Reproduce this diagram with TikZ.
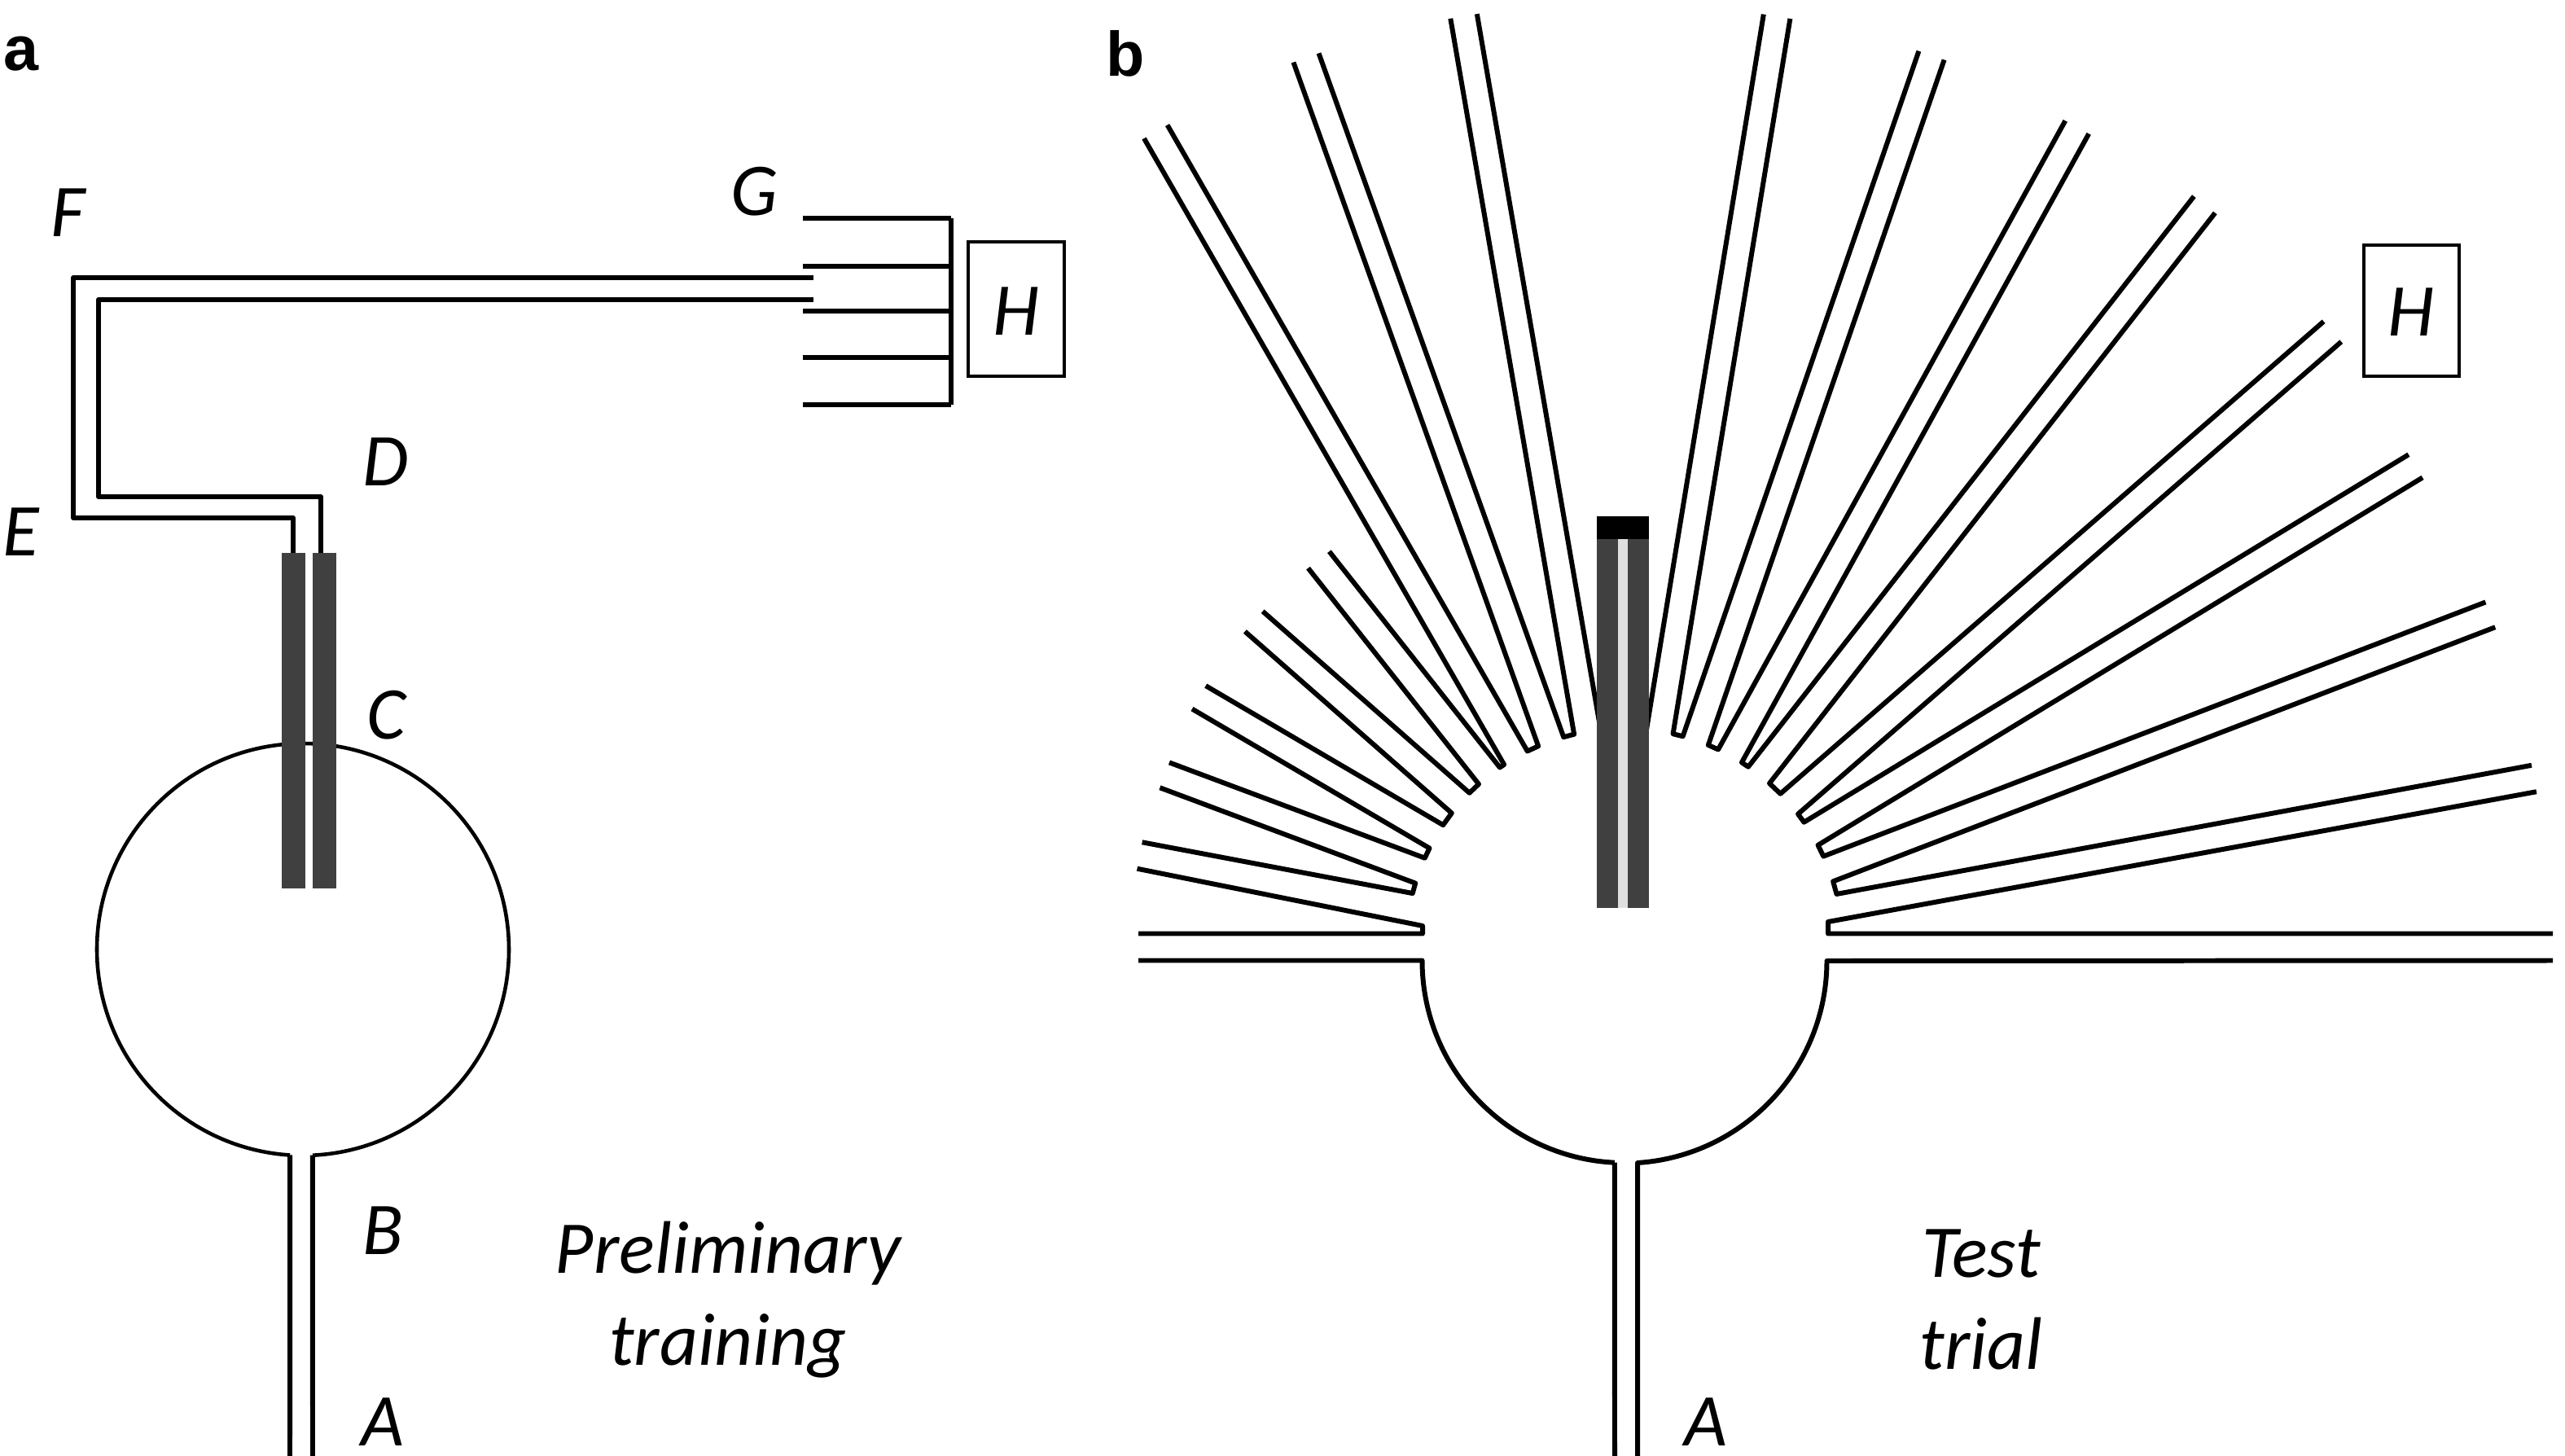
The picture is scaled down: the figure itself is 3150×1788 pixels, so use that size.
\documentclass[tikz,border=0pt]{standalone}
\usepackage{fontspec}
\setmainfont{Carlito}
\newfontfamily\lbfont{Liberation Sans}
\usetikzlibrary{calc}
\definecolor{tubegray}{HTML}{404040}
\begin{document}
\begin{tikzpicture}[x=0.01cm,y=0.01cm,
  wall/.style={line width=1.7pt,line join=round},
  thinwall/.style={line width=1.3pt},
  lbl/.style={font=\fontsize{26}{30}\selectfont\itshape,inner sep=0pt},
  panel/.style={font=\lbfont\bfseries\fontsize{22}{24}\selectfont,inner sep=0pt}]
\useasboundingbox (0,0) rectangle (3150,-1788);
% ---------- panel a ----------
\node[panel] (pa) at (26,-66) {a};
\coordinate (ca) at (372,-1166);
\draw[thinwall] ($(ca)+(272.7:253)$) arc (272.7:626.4:253) coordinate (ca1);
\draw[wall] (ca1) -- (356,-1788);
\draw[wall] ($(ca)+(272.7:253)$) -- (384,-1788);
% pipe
\draw[wall] (999,-341) -- (90,-341) -- (90,-636) -- (360,-636) -- (360,-679);
\draw[wall] (999,-368) -- (121,-368) -- (121,-610) -- (394,-610) -- (394,-679);
\fill[tubegray] (346,-679) rectangle (375,-1091);
\fill[tubegray] (384,-679) rectangle (413,-1091);
% comb
\draw[wall] (1168,-268) -- (1168,-497);
\foreach \yy in {268,327,382,439,497} \draw[wall] (986,-\yy) -- (1168,-\yy);
\draw[line width=1.2pt] (1189,-297) rectangle (1307,-462);
\node[lbl] (hal) at (1248,-382) {H};
\node[lbl] (F) at (84,-261) {F};
\node[lbl] (G) at (926,-235) {G};
\node[lbl] (E) at (26,-653) {E};
\node[lbl] (D) at (474,-567) {D};
\node[lbl] (C) at (474,-878) {C};
\node[lbl] (B) at (470,-1511) {B};
\node[lbl] (A) at (470,-1746) {A};
\node[lbl,align=center] (pt) at (894,-1596) {Preliminary\\[2pt]training};
% ---------- panel b ----------
\node[panel] (pb) at (1382,-66) {b};
\coordinate (fc) at (1995,-1163);
\coordinate (hub) at (1995,-1180);
\draw[wall] (1398,-1179.5) -- (1746.5,-1179.5) arc (180:267.2:248.5) coordinate (hb1);
\draw[wall] (hb1) -- (1983,-1788);
\draw[wall] (2011,-1788) -- ($(hub)+(273.7:248.5)$) arc (273.7:360:248.5) -- (3135,-1179.5);
\draw[wall] (3135,-1146.5) -- (2245,-1146.5) -- (2245,-1132) -- ($(fc)+(10.5:1136)+(-79.5:16.5)$);
\draw[wall] (1398,-1146.5) -- (1747,-1146.5) -- (1747,-1137) -- ($(fc)+(169.3:606)+(259.3:16.5)$);
\foreach \a/\ra/\b/\rb in {10.5/1136/21/1139, 21/1139/31.3/1137, 31.3/1137/41/1152,
   41/1152/52/1157, 52/1157/61.1/1150, 61.1/1150/71/1158, 71/1158/80.7/1158,
   99.8/1160/109.7/1160, 109.7/1160/119.9/1155, 119.9/1155/128.3/606,
   128.3/606/138.7/606, 138.7/606/149.6/606, 149.6/606/159.5/603, 159.5/603/169.3/606}{
  \draw[wall] ($(fc)+(\a:\ra)+({\a+90}:16.5)$) -- ($(fc)+(\a:268)+({\a+90}:16.5)$)
     -- ($(fc)+(\b:268)+({\b-90}:16.5)$) -- ($(fc)+(\b:\rb)+({\b-90}:16.5)$);
}
\draw[wall] ($(fc)+(80.7:1158)+(170.7:16.5)$) -- ($(fc)+(80.7:268)+(170.7:16.5)$);
\draw[wall] ($(fc)+(99.8:1160)+(9.8:16.5)$) -- ($(fc)+(99.8:268)+(9.8:16.5)$);
% tube
\fill[gray!25] (1987,-662) rectangle (1999,-1115);
\fill[tubegray] (1961,-662) rectangle (1987,-1115);
\fill[tubegray] (1999,-662) rectangle (2025,-1115);
\fill[black] (1961,-634) rectangle (2025,-662);
\draw[line width=1.2pt] (2903,-301) rectangle (3020,-462);
\node[lbl] (hbl) at (2961,-383) {H};
\node[lbl] (Ab) at (2095,-1746) {A};
\node[lbl,align=center] (tt) at (2433,-1596) {Test\\[2pt]trial};
\end{tikzpicture}
\end{document}
